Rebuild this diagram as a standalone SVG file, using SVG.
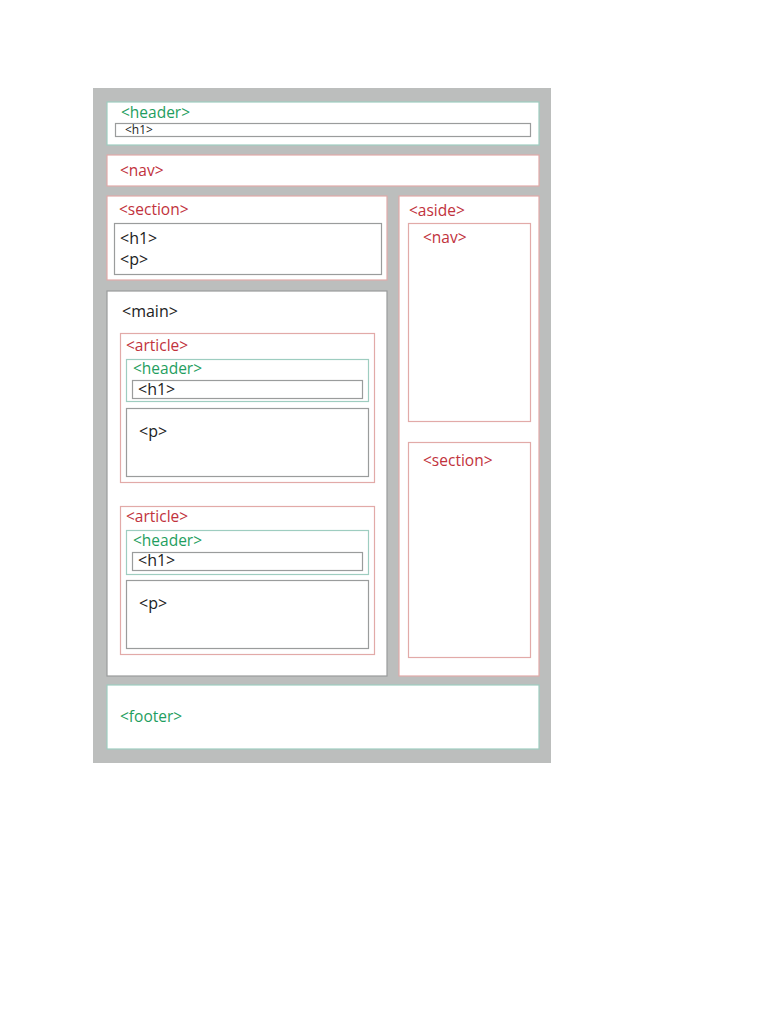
<svg xmlns="http://www.w3.org/2000/svg" width="768" height="1024" viewBox="0 0 768 1024">
<style>
.g{stroke:#9ecdc0;stroke-width:1.2;fill:#fff}
.r{stroke:#e2aaa8;stroke-width:1.2;fill:#fff}
.k{stroke:#9a9c9c;stroke-width:1.2;fill:#fff}
text{font-family:"Open Sans","Noto Sans",sans-serif;font-size:15.5px}
.tg{fill:#1f9e60}
.tr{fill:#c1323c}
.tk{fill:#222}
.big{font-size:16px}
</style>
<rect width="768" height="1024" fill="#fff"/>
<rect x="93" y="88" width="458" height="675" fill="#bcbebd"/>
<g id="header">
<rect class="g" x="107" y="102" width="432" height="43"/>
<text class="tg" x="121" y="118">&lt;header&gt;</text>
<rect class="k" x="115.5" y="123.5" width="415" height="13"/>
<text class="tk" x="125" y="134" style="font-size:12px">&lt;h1&gt;</text>
</g>
<g id="nav">
<rect class="r" x="107" y="155" width="432" height="31"/>
<text class="tr" x="120" y="176">&lt;nav&gt;</text>
</g>
<g id="section">
<rect class="r" x="107" y="196" width="280" height="84"/>
<text class="tr" x="119" y="215">&lt;section&gt;</text>
<rect class="k" x="114.5" y="223.5" width="267" height="51"/>
<text class="tk big" x="120" y="244">&lt;h1&gt;</text>
<text class="tk big" x="120" y="265">&lt;p&gt;</text>
</g>
<g id="aside">
<rect class="r" x="399" y="196" width="140" height="480"/>
<text class="tr" x="409" y="216">&lt;aside&gt;</text>
<rect class="r" x="408.5" y="223.5" width="122" height="198"/>
<text class="tr" x="423" y="243">&lt;nav&gt;</text>
<rect class="r" x="408.5" y="442.5" width="122" height="215"/>
<text class="tr" x="423" y="466">&lt;section&gt;</text>
</g>
<g id="main">
<rect class="k" x="107" y="291" width="280" height="385"/>
<text class="tk big" x="122" y="317">&lt;main&gt;</text>
</g>
<g id="article1">
<rect class="r" x="120.5" y="333.5" width="254" height="149"/>
<text class="tr" x="126" y="351">&lt;article&gt;</text>
<rect class="g" x="126.5" y="359.5" width="242" height="42"/>
<text class="tg" x="133" y="374">&lt;header&gt;</text>
<rect class="k" x="132.5" y="380.5" width="230" height="18"/>
<text class="tk big" x="138" y="395">&lt;h1&gt;</text>
<rect class="k" x="126.5" y="408.5" width="242" height="68"/>
<text class="tk big" x="139" y="437">&lt;p&gt;</text>
</g>
<g id="article2">
<rect class="r" x="120.5" y="506.5" width="254" height="148"/>
<text class="tr" x="126" y="522">&lt;article&gt;</text>
<rect class="g" x="126.5" y="530.5" width="242" height="44"/>
<text class="tg" x="133" y="546">&lt;header&gt;</text>
<rect class="k" x="132.5" y="552.5" width="230" height="18"/>
<text class="tk big" x="138" y="566">&lt;h1&gt;</text>
<rect class="k" x="126.5" y="580.5" width="242" height="68"/>
<text class="tk big" x="139" y="609">&lt;p&gt;</text>
</g>
<g id="footer">
<rect class="g" x="107" y="685" width="432" height="64"/>
<text class="tg" x="120" y="722">&lt;footer&gt;</text>
</g>
<g id="connectors"></g>
</svg>
